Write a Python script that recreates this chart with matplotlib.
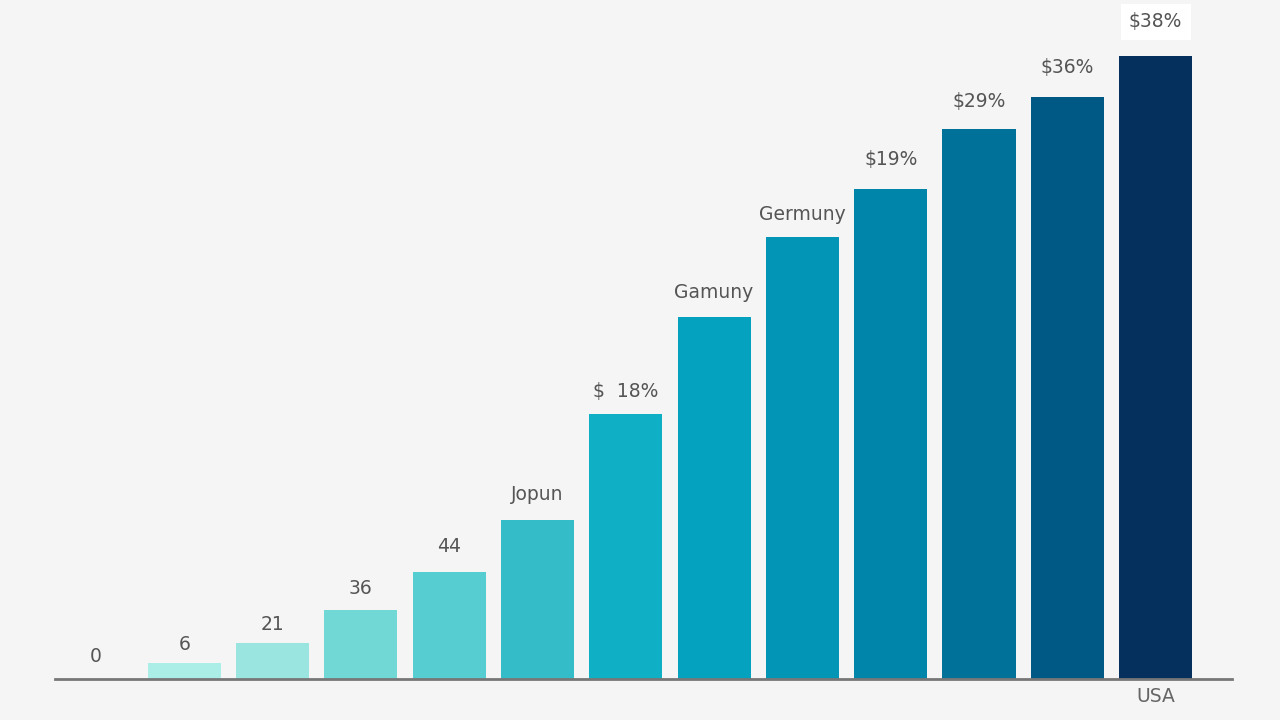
import matplotlib.pyplot as plt

# bar heights (baseline = 0)
heights = [0, 16, 36, 69, 107, 159, 265, 362, 442, 490, 550, 582, 623]
labels = ["0", "6", "21", "36", "44", "Jopun", "$  18%", "Gamuny", "Germuny",
          "$19%", "$29%", "$36%", "$38%"]
label_gap = [22, 18, 18, 22, 26, 25, 23, 25, 22, 29, 27, 29, 34]
colors = ["#b8f0ea", "#aaeee7", "#9ae5df", "#72d8d5", "#55cdd1", "#34bcc9",
          "#0fb0c5", "#05a2bf", "#0295b5", "#0085aa", "#00729a", "#005985",
          "#05305d"]
xlabel_last = "USA"

fig = plt.figure(figsize=(12.8, 7.2), dpi=100)
fig.patch.set_facecolor("#f5f5f5")
ax = fig.add_axes([55 / 1280, 1 - 679 / 720, (1232 - 55) / 1280, 679 / 720])
ax.set_facecolor("#f5f5f5")

xs = list(range(len(heights)))
ax.bar(xs, heights, width=0.827, color=colors, zorder=2)

for x, h, lab, g in zip(xs, heights, labels, label_gap):
    t = ax.text(x, h + g, lab, ha="center", va="center", fontsize=13.5,
                color="#555555", zorder=3)
    if x == len(xs) - 1:
        t.set_bbox(dict(facecolor="white", edgecolor="none", pad=6))

ax.text(len(xs) - 1, -18, xlabel_last, ha="center", va="center",
        fontsize=13.5, color="#666666", clip_on=False)

ax.set_xlim(-0.464, 12.865)
ax.set_ylim(0, 679)
for s in ["top", "right", "left"]:
    ax.spines[s].set_visible(False)
ax.spines["bottom"].set_color("#777777")
ax.spines["bottom"].set_linewidth(2)
ax.set_xticks([])
ax.set_yticks([])

fig.savefig("out.png", dpi=100, facecolor=fig.get_facecolor())
